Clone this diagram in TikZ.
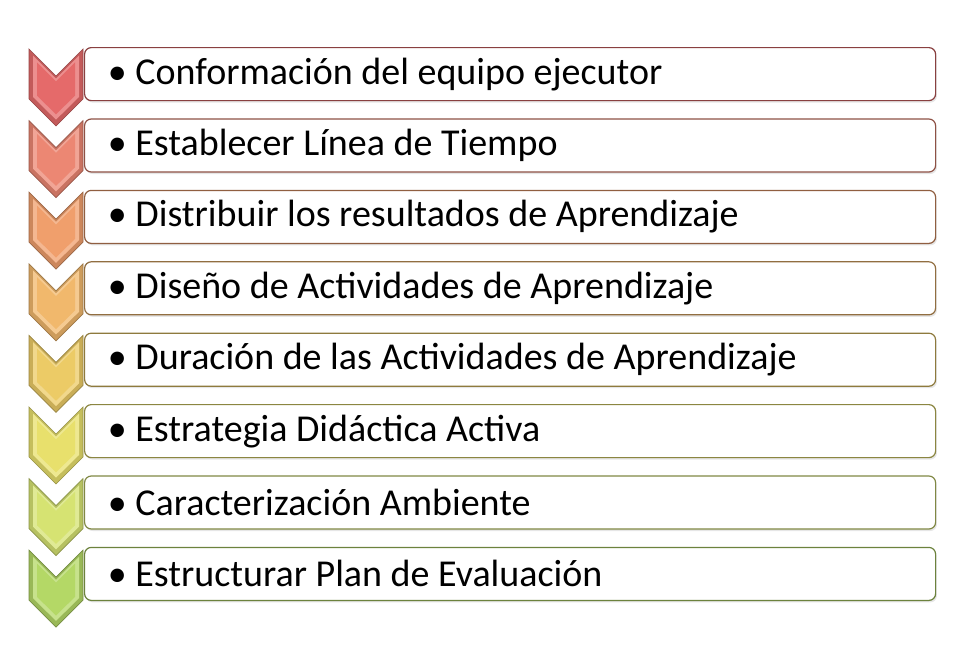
\documentclass[tikz,border=0pt]{standalone}
\usepackage{fontspec}
\setmainfont{Carlito}
\usetikzlibrary{positioning, shadows}
\definecolor{cA}{HTML}{E56A6A}
\definecolor{cB}{HTML}{EC8773}
\definecolor{cC}{HTML}{F09F6C}
\definecolor{cD}{HTML}{F1B86C}
\definecolor{cE}{HTML}{ECCB66}
\definecolor{cF}{HTML}{E8E06C}
\definecolor{cG}{HTML}{D6E372}
\definecolor{cH}{HTML}{B4D866}

\begin{document}
\begin{tikzpicture}[
node distance=12.9pt,
box/.style={draw=#1!60!black,
rectangle,
rounded corners=5pt,
line width=0.9pt,
fill=white,
drop shadow={opacity=0.2, shadow xshift=1pt, shadow yshift=-1.5pt},
minimum width=638.25pt,
minimum height=39.75pt,
inner xsep=17.5pt,
text width=603.25pt,
align=flush left,
font=\fontsize{28.5}{32}\selectfont},
pics/chevron/.style={code={
\fill[#1!85!black, draw=#1!65!black, line width=0.5pt] (0,0) -- (20.25pt,-20.25pt) -- (40.5pt,0) -- (40.5pt,-37.5pt) -- (20.25pt,-57.75pt) -- (0,-37.5pt) -- cycle;
\fill[#1!75!white] (3pt,-5pt) -- (20.25pt,-22.25pt) -- (37.5pt,-5pt) -- (37.5pt,-36pt) -- (20.25pt,-53pt) -- (3pt,-36pt) -- cycle;
\fill[#1] (6pt,-10pt) -- (20.25pt,-24.25pt) -- (34.5pt,-10pt) -- (34.5pt,-35pt) -- (20.25pt,-49pt) -- (6pt,-35pt) -- cycle;
}}
]
\useasboundingbox (0,0) rectangle (732pt,-490.5pt);

% chevrons first, boxes over them
\coordinate (start) at (63pt,-35.25pt);
\foreach \c [count=\i from 0] in {cA,cB,cC,cD,cE,cF,cG,cH}
  \pic at ([xshift=-41.25pt, yshift={-1.5pt-53.7pt*\i}]start) {chevron=\c};

\node[box=cA, anchor=north west] (step0) at (start) {•\ Conformación del equipo ejecutor};
\node[box=cB, below=of step0] (step1) {•\ Establecer Línea de Tiempo};
\node[box=cC, below=of step1] (step2) {•\ Distribuir los resultados de Aprendizaje};
\node[box=cD, below=of step2] (step3) {•\ Diseño de Actividades de Aprendizaje};
\node[box=cE, below=of step3] (step4) {•\ Duración de las Actividades de Aprendizaje};
\node[box=cF, below=of step4] (step5) {•\ Estrategia Didáctica Activa};
\node[box=cG, below=of step5] (step6) {•\ Caracterización Ambiente};
\node[box=cH, below=of step6] (step7) {•\ Estructurar Plan de Evaluación};

\end{tikzpicture}
\end{document}
